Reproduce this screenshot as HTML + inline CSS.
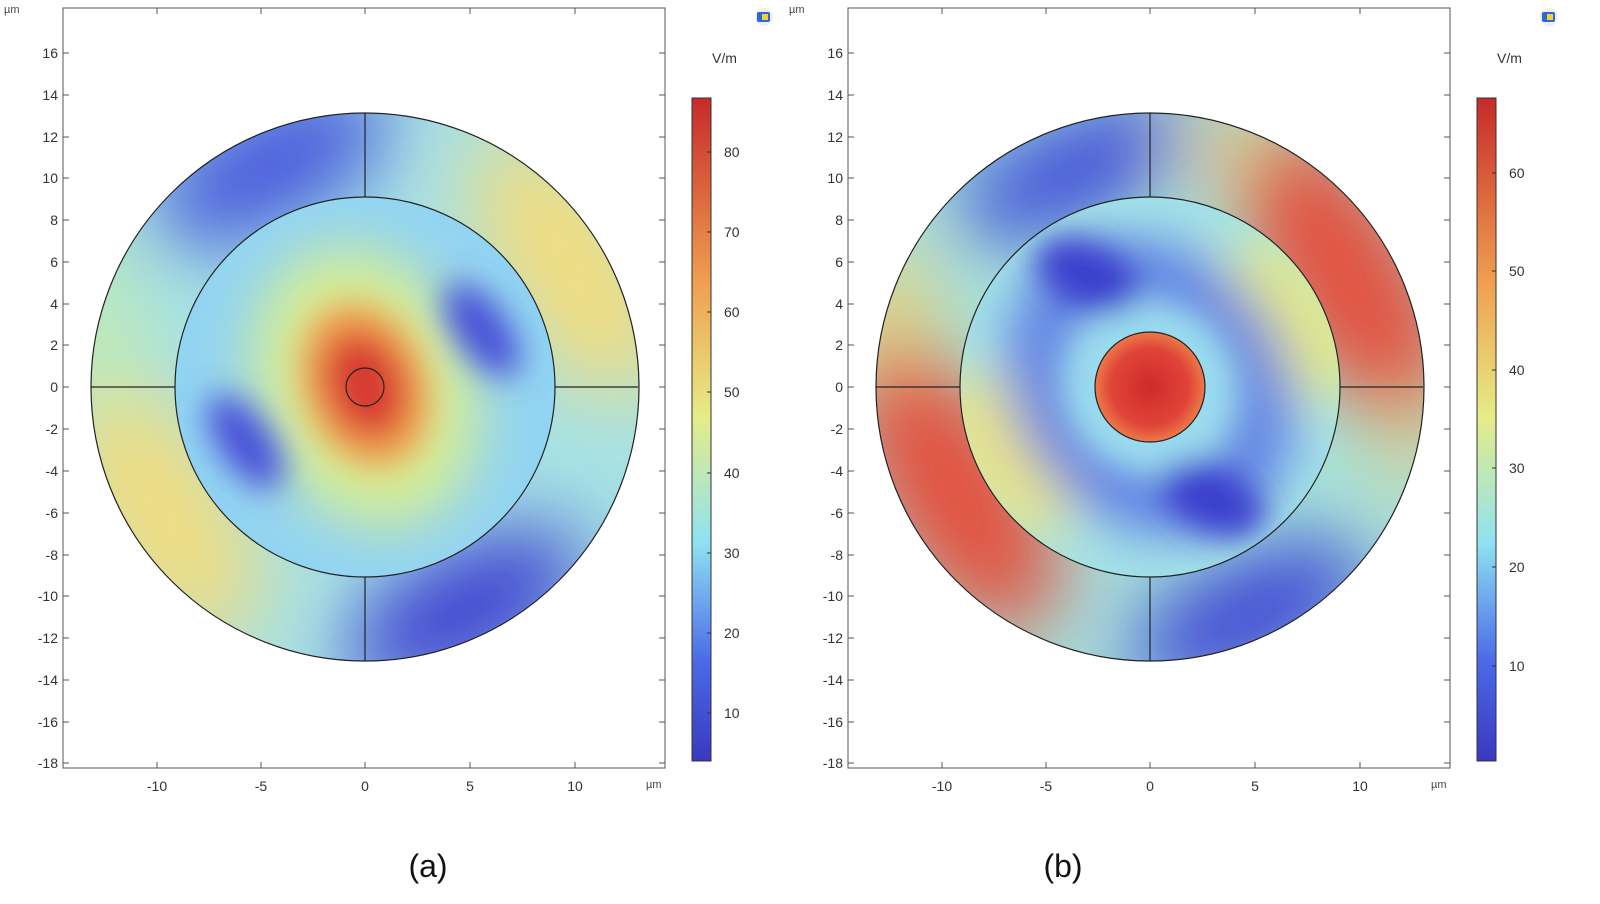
<!DOCTYPE html>
<html><head><meta charset="utf-8"><style>
html,body{margin:0;padding:0;background:#fff;}
svg{display:block;font-family:"Liberation Sans",sans-serif;}
.t{font-size:14px;fill:#333;}
</style></head><body>
<svg width="1600" height="904" viewBox="0 0 1600 904" xmlns="http://www.w3.org/2000/svg">
<defs>
<filter id="b0" x="-50%" y="-50%" width="200%" height="200%"><feGaussianBlur stdDeviation="40"/></filter>
<filter id="b1" x="-50%" y="-50%" width="200%" height="200%"><feGaussianBlur stdDeviation="28"/></filter>
<filter id="b2" x="-50%" y="-50%" width="200%" height="200%"><feGaussianBlur stdDeviation="16"/></filter>
<clipPath id="co"><circle cx="365" cy="387" r="274"/></clipPath>
<clipPath id="ci"><circle cx="365" cy="387" r="190"/></clipPath>
<linearGradient id="jet" x1="0" y1="1" x2="0" y2="0">
<stop offset="0" stop-color="#3a38c0"/><stop offset="0.15" stop-color="#4a6ae8"/>
<stop offset="0.33" stop-color="#8fe2f2"/><stop offset="0.52" stop-color="#e6ec86"/>
<stop offset="0.72" stop-color="#f0a050"/><stop offset="1" stop-color="#c62a2a"/>
</linearGradient>
<radialGradient id="rc"><stop offset="0" stop-color="#cf2a2a"/><stop offset="0.7" stop-color="#e04438"/><stop offset="1" stop-color="#ec7a48"/></radialGradient>
</defs>

<!-- ========== Panel A ========== -->
<g>
<rect x="63" y="8" width="602" height="760" fill="#fff" stroke="#555" stroke-width="1"/>
<g clip-path="url(#co)">
 <rect x="60" y="80" width="610" height="610" fill="#a6e2e6"/>
 <g filter="url(#b0)">
  <ellipse cx="270" cy="165" rx="130" ry="60" transform="rotate(-28 270 165)" fill="#4656dc"/>
  <ellipse cx="570" cy="265" rx="75" ry="150" transform="rotate(-30 570 265)" fill="#f0dc80"/>
  <ellipse cx="160" cy="510" rx="75" ry="150" transform="rotate(-30 160 510)" fill="#f0dc80"/>
  <ellipse cx="465" cy="610" rx="130" ry="60" transform="rotate(-28 465 610)" fill="#3c40d0"/>
  <ellipse cx="100" cy="330" rx="35" ry="90" fill="#c6eca6"/>
 </g>
 <g clip-path="url(#ci)">
  <rect x="170" y="190" width="390" height="390" fill="#92d4f2"/>
  <g filter="url(#b1)">
   <ellipse cx="365" cy="387" rx="110" ry="145" transform="rotate(-20 365 387)" fill="#d6ee94"/>
  </g>
  <g filter="url(#b2)">
   <ellipse cx="365" cy="385" rx="62" ry="85" transform="rotate(-20 365 385)" fill="#f0a050"/>
   <ellipse cx="365" cy="385" rx="40" ry="55" transform="rotate(-20 365 385)" fill="#d83a30"/>
   <ellipse cx="482" cy="330" rx="26" ry="55" transform="rotate(-35 482 330)" fill="#4650d8"/>
   <ellipse cx="245" cy="442" rx="26" ry="55" transform="rotate(-35 245 442)" fill="#4650d8"/>
  </g>
 </g>
</g>
<g fill="none" stroke="#222" stroke-width="1.2">
 <circle cx="365" cy="387" r="274"/><circle cx="365" cy="387" r="190"/><circle cx="365" cy="387" r="19"/>
 <line x1="365" y1="113" x2="365" y2="197"/><line x1="365" y1="577" x2="365" y2="661"/>
 <line x1="91" y1="387" x2="175" y2="387"/><line x1="555" y1="387" x2="638" y2="387"/>
</g>
<g stroke="#555" stroke-width="1">
 <path d="M157 768v-6M261 768v-6M365 768v-6M470 768v-6M575 768v-6M157 8v6M261 8v6M365 8v6M470 8v6M575 8v6"/>
 <path d="M63 53h6M63 95h6M63 137h6M63 178h6M63 220h6M63 262h6M63 304h6M63 345h6M63 387h6M63 429h6M63 471h6M63 513h6M63 555h6M63 596h6M63 638h6M63 680h6M63 722h6M63 763h6
 M665 53h-6M665 95h-6M665 137h-6M665 178h-6M665 220h-6M665 262h-6M665 304h-6M665 345h-6M665 387h-6M665 429h-6M665 471h-6M665 513h-6M665 555h-6M665 596h-6M665 638h-6M665 680h-6M665 722h-6M665 763h-6"/>
</g>
<g class="t" text-anchor="end">
 <text x="58" y="58">16</text><text x="58" y="100">14</text><text x="58" y="142">12</text><text x="58" y="183">10</text>
 <text x="58" y="225">8</text><text x="58" y="267">6</text><text x="58" y="309">4</text><text x="58" y="350">2</text>
 <text x="58" y="392">0</text><text x="58" y="434">-2</text><text x="58" y="476">-4</text><text x="58" y="518">-6</text>
 <text x="58" y="560">-8</text><text x="58" y="601">-10</text><text x="58" y="643">-12</text><text x="58" y="685">-14</text>
 <text x="58" y="727">-16</text><text x="58" y="768">-18</text>
</g>
<g class="t" text-anchor="middle">
 <text x="157" y="791">-10</text><text x="261" y="791">-5</text><text x="365" y="791">0</text><text x="470" y="791">5</text><text x="575" y="791">10</text>
</g>
<text x="4" y="13" style="font-size:11px;fill:#444">µm</text>
<text x="646" y="788" style="font-size:11px;fill:#444">µm</text>
<text x="712" y="63" class="t">V/m</text>
<rect x="692" y="98" width="19" height="663" fill="url(#jet)" stroke="#333" stroke-width="1"/>
<g stroke="#333"><path d="M711 152h-4M711 232h-4M711 312h-4M711 392h-4M711 473h-4M711 553h-4M711 633h-4M711 713h-4"/></g>
<g class="t">
 <text x="724" y="157">80</text><text x="724" y="237">70</text><text x="724" y="317">60</text><text x="724" y="397">50</text>
 <text x="724" y="478">40</text><text x="724" y="558">30</text><text x="724" y="638">20</text><text x="724" y="718">10</text>
</g>
<circle cx="764" cy="17" r="9" fill="#eee"/><rect x="757" y="12" width="13" height="10" rx="2" fill="#2a6ad0"/><rect x="762" y="14" width="6" height="6" fill="#f0d040"/>
<text x="428" y="877" text-anchor="middle" style="font-size:32px;fill:#111">(a)</text>
</g>

<!-- ========== Panel B ========== -->
<g transform="translate(785,0)">
<rect x="63" y="8" width="602" height="760" fill="#fff" stroke="#555" stroke-width="1"/>
<g clip-path="url(#co)">
 <rect x="60" y="80" width="610" height="610" fill="#a4e4dc"/>
 <g filter="url(#b0)">
  <ellipse cx="105" cy="320" rx="45" ry="80" fill="#ecd27a"/>
  <ellipse cx="420" cy="140" rx="55" ry="40" fill="#e8e080"/>
  <ellipse cx="290" cy="170" rx="130" ry="50" transform="rotate(-25 290 170)" fill="#3c46d8"/>
  <ellipse cx="560" cy="275" rx="75" ry="165" transform="rotate(-30 560 275)" fill="#e4503e"/>
  <ellipse cx="170" cy="490" rx="75" ry="160" transform="rotate(-30 170 490)" fill="#e4503e"/>
  <ellipse cx="465" cy="615" rx="130" ry="55" transform="rotate(-25 465 615)" fill="#3c42d4"/>
  <ellipse cx="625" cy="450" rx="25" ry="50" fill="#eec878"/>
 </g>
 <g clip-path="url(#ci)">
  <rect x="170" y="190" width="390" height="390" fill="#a4e2e8"/>
  <g filter="url(#b1)">
   <ellipse cx="515" cy="320" rx="50" ry="100" transform="rotate(-35 515 320)" fill="#e4e888"/>
   <ellipse cx="215" cy="455" rx="50" ry="100" transform="rotate(-35 215 455)" fill="#eae486"/>
   <ellipse cx="365" cy="387" rx="125" ry="105" transform="rotate(45 365 387)" fill="none" stroke="#5470e4" stroke-width="55"/>
  </g>
  <g filter="url(#b2)">
   <ellipse cx="302" cy="275" rx="55" ry="32" transform="rotate(25 302 275)" fill="#3a3ccc"/>
   <ellipse cx="428" cy="500" rx="55" ry="32" transform="rotate(25 428 500)" fill="#3a3ccc"/>
   <circle cx="365" cy="387" r="80" fill="#9adcf0"/>
  </g>
  <circle cx="365" cy="387" r="55" fill="url(#rc)"/>
 </g>
</g>
<g fill="none" stroke="#222" stroke-width="1.2">
 <circle cx="365" cy="387" r="274"/><circle cx="365" cy="387" r="190"/><circle cx="365" cy="387" r="55"/>
 <line x1="365" y1="113" x2="365" y2="197"/><line x1="365" y1="577" x2="365" y2="661"/>
 <line x1="91" y1="387" x2="175" y2="387"/><line x1="555" y1="387" x2="638" y2="387"/>
</g>
<g stroke="#555" stroke-width="1">
 <path d="M157 768v-6M261 768v-6M365 768v-6M470 768v-6M575 768v-6M157 8v6M261 8v6M365 8v6M470 8v6M575 8v6"/>
 <path d="M63 53h6M63 95h6M63 137h6M63 178h6M63 220h6M63 262h6M63 304h6M63 345h6M63 387h6M63 429h6M63 471h6M63 513h6M63 555h6M63 596h6M63 638h6M63 680h6M63 722h6M63 763h6
 M665 53h-6M665 95h-6M665 137h-6M665 178h-6M665 220h-6M665 262h-6M665 304h-6M665 345h-6M665 387h-6M665 429h-6M665 471h-6M665 513h-6M665 555h-6M665 596h-6M665 638h-6M665 680h-6M665 722h-6M665 763h-6"/>
</g>
<g class="t" text-anchor="end">
 <text x="58" y="58">16</text><text x="58" y="100">14</text><text x="58" y="142">12</text><text x="58" y="183">10</text>
 <text x="58" y="225">8</text><text x="58" y="267">6</text><text x="58" y="309">4</text><text x="58" y="350">2</text>
 <text x="58" y="392">0</text><text x="58" y="434">-2</text><text x="58" y="476">-4</text><text x="58" y="518">-6</text>
 <text x="58" y="560">-8</text><text x="58" y="601">-10</text><text x="58" y="643">-12</text><text x="58" y="685">-14</text>
 <text x="58" y="727">-16</text><text x="58" y="768">-18</text>
</g>
<g class="t" text-anchor="middle">
 <text x="157" y="791">-10</text><text x="261" y="791">-5</text><text x="365" y="791">0</text><text x="470" y="791">5</text><text x="575" y="791">10</text>
</g>
<text x="4" y="13" style="font-size:11px;fill:#444">µm</text>
<text x="646" y="788" style="font-size:11px;fill:#444">µm</text>
<text x="712" y="63" class="t">V/m</text>
<rect x="692" y="98" width="19" height="663" fill="url(#jet)" stroke="#333" stroke-width="1"/>
<g stroke="#333"><path d="M711 173h-4M711 271h-4M711 370h-4M711 468h-4M711 567h-4M711 666h-4"/></g>
<g class="t">
 <text x="724" y="178">60</text><text x="724" y="276">50</text><text x="724" y="375">40</text>
 <text x="724" y="473">30</text><text x="724" y="572">20</text><text x="724" y="671">10</text>
</g>
<circle cx="764" cy="17" r="9" fill="#eee"/><rect x="757" y="12" width="13" height="10" rx="2" fill="#2a6ad0"/><rect x="762" y="14" width="6" height="6" fill="#f0d040"/>
<text x="278" y="877" text-anchor="middle" style="font-size:32px;fill:#111">(b)</text>
</g>
</svg>
</body></html>
